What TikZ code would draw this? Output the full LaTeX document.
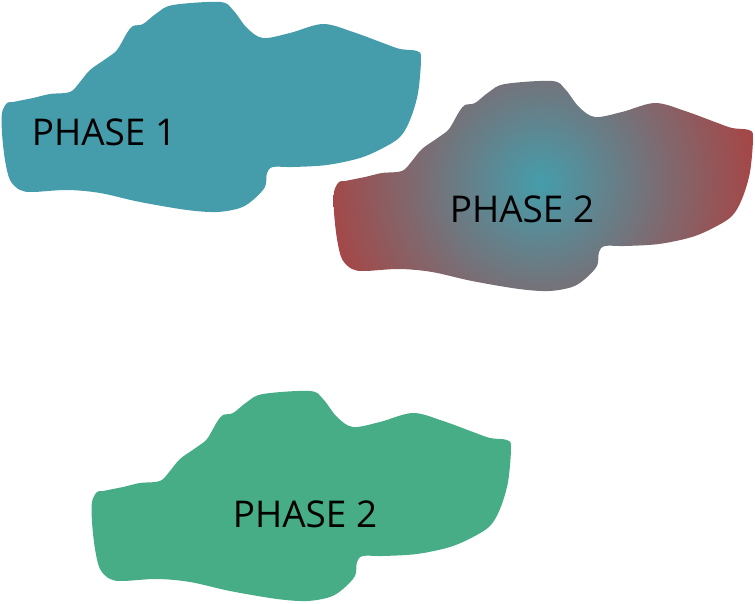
\documentclass[tikz,border=0pt]{standalone}
\usepackage{fontspec}
\setmainfont{Open Sans}
\usepackage{tikz}
\definecolor{phaseteal}{RGB}{69,157,171}
\definecolor{phasered}{RGB}{168,68,68}
\definecolor{phasegreen}{RGB}{70,173,134}

% outline of one blob, in pixel units (all three share it)
\def\blobshape{plot[smooth cycle, tension=0.55] coordinates {
  (173,5) (220,2) (233,10) (247,28) (263,38) (290,33) (323,24) (353,32)
  (383,43) (400,49) (417,51) (421,58) (418,93) (410,120) (400,137)
  (383,148) (360,158) (327,165) (293,167) (273,167) (267,173) (265,187)
  (253,200) (240,208) (217,212) (187,210) (140,202) (100,193) (67,190)
  (33,192) (20,190) (10,180) (5,160) (2,133) (2,113) (7,103) (13,102)
  (33,98) (50,94) (70,92) (80,82) (90,70) (107,58) (117,50) (127,33)
  (133,26) (143,24) (157,13)}}

\begin{document}
\begin{tikzpicture}[x=0.02cm, y=-0.02cm,
  phaselabel/.style={font=\fontsize{21}{25}\selectfont, text=black, inner sep=0pt}]

\useasboundingbox (0,0) rectangle (755,604);

%% ── phase 1 (plain teal) ─────────────────────────────────────────
\fill[phaseteal] \blobshape;
\node[phaselabel] (phaseone) at (104,132) {PHASE 1};

%% ── phase 2 (teal centre fading to red) ──────────────────────────
\begin{scope}[shift={(332,79)}]
  \clip \blobshape;
  \shade[inner color=phaseteal, outer color=phasered] (208,103) circle (4.4cm);
\end{scope}
\node[phaselabel] (phasetwo) at (522,209) {PHASE 2};

%% ── phase 2 (green) ──────────────────────────────────────────────
\begin{scope}[shift={(90,389)}]
  \fill[phasegreen] \blobshape;
\end{scope}
\node[phaselabel] (phasethree) at (305,514) {PHASE 2};

\end{tikzpicture}
\end{document}
